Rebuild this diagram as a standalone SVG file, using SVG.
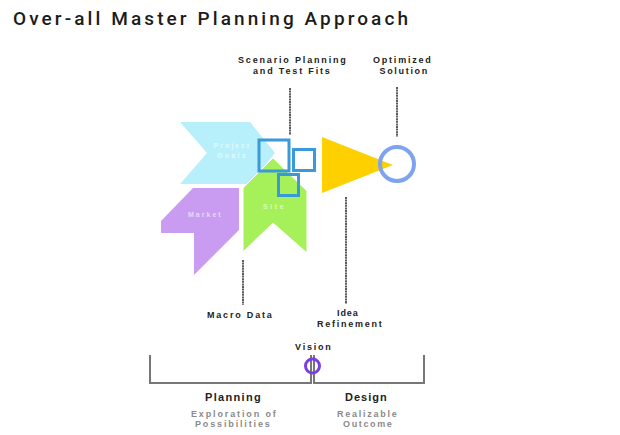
<svg xmlns="http://www.w3.org/2000/svg" width="620" height="435" viewBox="0 0 620 435">
<style>
.t{font-family:"Liberation Sans",Arial,sans-serif;font-weight:bold;fill:#222;font-size:9px;text-anchor:middle;letter-spacing:1.2px}
.g{font-family:"Liberation Sans",Arial,sans-serif;font-weight:bold;fill:#8a8a8a;font-size:9px;text-anchor:middle;letter-spacing:1.2px}
.h{font-family:"Liberation Sans",Arial,sans-serif;font-weight:bold;fill:#222;font-size:11px;text-anchor:middle;letter-spacing:1.3px}
.w{font-family:"Liberation Sans",Arial,sans-serif;font-weight:bold;fill:#ffffff;fill-opacity:0.6;font-size:7px;text-anchor:middle;letter-spacing:1.3px}
.ln{stroke:#333;stroke-width:1.6;stroke-dasharray:2 0.6;fill:none}
.br{stroke:#777;stroke-width:2;fill:none}
.sq{fill:none;stroke:#3a9ad9;stroke-width:3}
</style>
<rect width="620" height="435" fill="#ffffff"/>
<text x="13" y="25" font-family="Roboto,'Liberation Sans',sans-serif" font-weight="500" font-size="19" fill="#1c1c1c" textLength="395" lengthAdjust="spacing">Over-all Master Planning Approach</text>

<g id="project-goals">
<polygon points="180,122 250,122 275,153 250,184 180,184 207,153" fill="#b7f0fa"/>
<text class="w" x="232" y="148" textLength="37" lengthAdjust="spacing">Project</text>
<text class="w" x="232" y="158" textLength="30" lengthAdjust="spacing">Goals</text>
</g>
<g id="market">
<polygon points="193,188 239,188 239,230 194,275 194,233 161,233 161,221" fill="#c99cf1"/>
<text class="w" x="205" y="217" textLength="34" lengthAdjust="spacing">Market</text>
</g>
<g id="site">
<polygon points="273,158 307,191 307,253 273,223 243,252 243,188" fill="#a6f159" stroke="#fff" stroke-width="1"/>
<text class="w" x="274" y="209" textLength="22" lengthAdjust="spacing">Site</text>
</g>
<g id="scenario-squares">
<rect class="sq" x="259" y="140" width="30" height="31"/>
<rect class="sq" x="293.5" y="149.5" width="21" height="21"/>
<rect class="sq" x="278.5" y="174.5" width="20" height="21"/>
</g>
<g id="idea-refinement">
<polygon points="322,137 393,165 322,193" fill="#ffd000"/>
</g>
<g id="optimized-solution">
<circle cx="397" cy="164" r="17" fill="none" stroke="#7ea4ef" stroke-width="4"/>
</g>

<g id="connectors">
<line class="ln" x1="290" y1="88" x2="290" y2="135"/>
<line class="ln" x1="397" y1="87" x2="397" y2="137"/>
<line class="ln" x1="243" y1="260" x2="243" y2="305"/>
<line class="ln" x1="346" y1="197" x2="346" y2="304"/>
<polyline class="br" points="150,355 150,383 311,383 311,355"/>
<polyline class="br" points="424,355 424,383 314,383 314,355"/>
</g>
<g id="vision">
<circle cx="312.5" cy="366" r="7" fill="none" stroke="#7a3fe0" stroke-width="3"/>
<text class="t" x="313.5" y="350" textLength="37" lengthAdjust="spacing">Vision</text>
</g>

<g id="labels">
<text class="t" x="292.5" y="63" textLength="109" lengthAdjust="spacing">Scenario Planning</text>
<text class="t" x="292" y="74" textLength="78" lengthAdjust="spacing">and Test Fits</text>
<text class="t" x="402.5" y="63" textLength="59" lengthAdjust="spacing">Optimized</text>
<text class="t" x="404" y="74" textLength="49" lengthAdjust="spacing">Solution</text>
<text class="t" x="240" y="318" textLength="66" lengthAdjust="spacing">Macro Data</text>
<text class="t" x="348" y="316" textLength="22" lengthAdjust="spacing">Idea</text>
<text class="t" x="350" y="327" textLength="66" lengthAdjust="spacing">Refinement</text>
<text class="h" x="233.5" y="401" textLength="57" lengthAdjust="spacing">Planning</text>
<text class="h" x="366.5" y="401" textLength="43" lengthAdjust="spacing">Design</text>
<text class="g" x="234" y="417" textLength="86" lengthAdjust="spacing">Exploration of</text>
<text class="g" x="233" y="427" textLength="76" lengthAdjust="spacing">Possibilities</text>
<text class="g" x="367.5" y="417" textLength="61" lengthAdjust="spacing">Realizable</text>
<text class="g" x="368" y="427" textLength="50" lengthAdjust="spacing">Outcome</text>
</g>
</svg>
